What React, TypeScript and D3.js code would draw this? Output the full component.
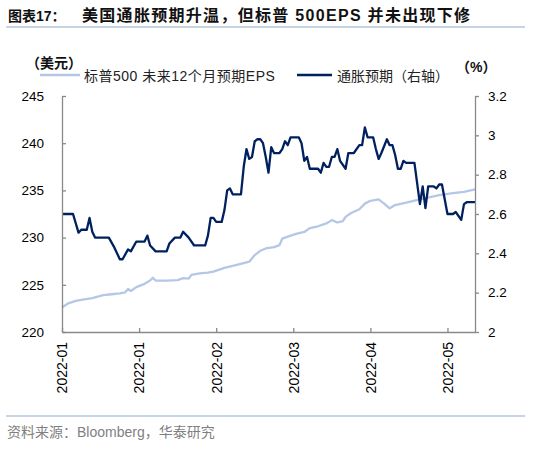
import React, { useEffect, useRef } from "react";
import * as d3 from "d3";

// ---- data ----
const infDates = [
  "2022-01-03","2022-01-07","2022-01-09","2022-01-10","2022-01-12","2022-01-13","2022-01-14","2022-01-15",
  "2022-01-20","2022-01-22","2022-01-24","2022-01-25","2022-01-27","2022-01-28","2022-01-30","2022-02-02",
  "2022-02-03","2022-02-04","2022-02-06","2022-02-10","2022-02-11","2022-02-13","2022-02-15","2022-02-16",
  "2022-02-18","2022-02-20","2022-02-24","2022-02-25","2022-02-26","2022-02-27","2022-02-28","2022-03-02",
  "2022-03-03","2022-03-04","2022-03-05","2022-03-06","2022-03-09","2022-03-10","2022-03-11","2022-03-12",
  "2022-03-13","2022-03-14","2022-03-15","2022-03-16","2022-03-17","2022-03-18","2022-03-19","2022-03-20",
  "2022-03-21","2022-03-23","2022-03-24","2022-03-25","2022-03-26","2022-03-27","2022-03-30","2022-03-31",
  "2022-04-01","2022-04-02","2022-04-03","2022-04-06","2022-04-07","2022-04-08","2022-04-09","2022-04-10",
  "2022-04-11","2022-04-12","2022-04-13","2022-04-14","2022-04-16","2022-04-17","2022-04-19","2022-04-21",
  "2022-04-22","2022-04-23","2022-04-24","2022-04-26","2022-04-27","2022-04-28","2022-04-29","2022-05-01",
  "2022-05-02","2022-05-03","2022-05-04","2022-05-05","2022-05-06","2022-05-07","2022-05-08","2022-05-11",
  "2022-05-13","2022-05-14","2022-05-15","2022-05-16","2022-05-18","2022-05-19","2022-05-20","2022-05-21",
  "2022-05-23","2022-05-25","2022-05-26","2022-05-28","2022-05-29","2022-05-30","2022-06-02",
];
const infValues = [
  2.60,2.60,2.505,2.52,2.52,2.58,2.51,2.48,
  2.48,2.43,2.37,2.37,2.42,2.41,2.46,2.46,
  2.49,2.44,2.41,2.41,2.45,2.48,2.48,2.51,
  2.48,2.44,2.44,2.49,2.58,2.58,2.56,2.56,
  2.62,2.72,2.73,2.70,2.70,2.84,2.93,2.88,
  2.89,2.97,2.98,2.98,2.96,2.89,2.81,2.94,
  2.91,2.91,2.93,2.97,2.95,2.99,2.99,2.96,
  2.87,2.89,2.83,2.83,2.81,2.86,2.84,2.84,
  2.89,2.89,2.93,2.87,2.83,2.91,2.91,2.95,
  2.95,3.04,2.99,2.99,2.93,2.88,2.91,2.98,
  2.95,2.95,2.90,2.83,2.83,2.87,2.86,2.86,
  2.65,2.74,2.63,2.74,2.74,2.73,2.75,2.75,
  2.60,2.60,2.61,2.57,2.65,2.66,2.66,
];

const epsDates = [
  "2022-01-03","2022-01-05","2022-01-08","2022-01-10","2022-01-14","2022-01-18","2022-01-21","2022-01-24",
  "2022-01-26","2022-01-27","2022-01-28","2022-01-30","2022-02-02","2022-02-04","2022-02-05","2022-02-06",
  "2022-02-10","2022-02-14","2022-02-16","2022-02-18","2022-02-19","2022-02-22","2022-02-25","2022-02-27",
  "2022-03-03","2022-03-06","2022-03-10","2022-03-12","2022-03-14","2022-03-16","2022-03-18","2022-03-21",
  "2022-03-23","2022-03-24","2022-03-26","2022-03-29","2022-04-01","2022-04-03","2022-04-06","2022-04-09",
  "2022-04-11","2022-04-13","2022-04-15","2022-04-16","2022-04-18","2022-04-21","2022-04-23","2022-04-25",
  "2022-04-28","2022-04-30","2022-05-02","2022-05-04","2022-05-08","2022-05-13","2022-05-20","2022-05-25",
  "2022-05-29","2022-06-02",
];
const epsValues = [
  222.6,223.0,223.3,223.4,223.6,223.9,224.0,224.1,
  224.2,224.55,224.35,224.75,225.1,225.45,225.75,225.45,
  225.45,225.5,225.7,225.65,226.05,226.2,226.3,226.4,
  226.8,227.0,227.3,227.45,228.15,228.6,228.85,229.0,
  229.2,229.9,230.1,230.4,230.6,231.0,231.2,231.5,
  231.85,231.6,231.75,232.2,232.6,233.0,233.6,233.9,
  234.05,233.6,233.1,233.45,233.7,234.05,234.5,234.7,
  234.85,235.1,
];

const xDomain = ["2022-01-03", "2022-06-02"];
const xTickDates = ["2022-01-03","2022-01-31","2022-02-28","2022-03-28","2022-04-25","2022-05-23"];
const leftTicks = [220, 225, 230, 235, 240, 245];
const rightTicks = [2, 2.2, 2.4, 2.6, 2.8, 3, 3.2];

const titlePrefix = "图表17：";
const titleMain = "美国通胀预期升温，但标普 500EPS 并未出现下修";
const leftUnit = "（美元）";
const rightUnit = "（%）";
const seriesNames = ["标普500 未来12个月预期EPS", "通胀预期（右轴）"];
const sourceText = "资料来源：Bloomberg，华泰研究";

const parse = d3.timeParse("%Y-%m-%d");
const FONT = "'Liberation Sans', Arial, 'Noto Sans CJK SC', sans-serif";
const DARK = "#002060";
const LIGHT = "#b4c7e7";
const AXIS = "#898989";

export default function App() {
  const axRef = useRef<SVGGElement | null>(null);

  const L = 62, R = 475, T = 96, B = 332;
  const x = d3.scaleTime().domain(xDomain.map((d) => parse(d) as Date)).range([L, R]);
  const yL = d3.scaleLinear().domain([220, 245]).range([B, T]);
  const yR = d3.scaleLinear().domain([2, 3.2]).range([B, T]);

  const infData = infDates.map((d, i) => ({ d: parse(d) as Date, v: infValues[i] }));
  const epsData = epsDates.map((d, i) => ({ d: parse(d) as Date, v: epsValues[i] }));

  const infLine = d3.line<{ d: Date; v: number }>().x((p) => x(p.d)).y((p) => yR(p.v));
  const epsLine = d3.line<{ d: Date; v: number }>().x((p) => x(p.d)).y((p) => yL(p.v));

  useEffect(() => {
    const g = d3.select(axRef.current);
    g.selectAll("*").remove();

    const styleAxis = (sel: any) => {
      sel.selectAll(".domain").attr("stroke", AXIS).attr("stroke-width", 1.3);
      sel.selectAll(".tick line").attr("stroke", AXIS).attr("stroke-width", 1.3);
      sel.selectAll(".tick text").attr("fill", "#000").style("font-family", FONT);
      sel.attr("font-size", null);
    };

    const left = g.append("g").attr("transform", `translate(${L},0)`)
      .call(d3.axisLeft(yL).tickValues(leftTicks).tickSizeInner(-4).tickSizeOuter(0).tickPadding(18).tickFormat(d3.format("d")));
    styleAxis(left);
    left.selectAll(".tick text").style("font-size", "13.5px");

    const right = g.append("g").attr("transform", `translate(${R},0)`)
      .call(d3.axisRight(yR).tickValues(rightTicks).tickSizeInner(4).tickSizeOuter(0).tickPadding(9)
        .tickFormat((d: any) => String(+(+d).toFixed(1))));
    styleAxis(right);
    right.selectAll(".tick text").style("font-size", "13.5px");

    const bottom = g.append("g").attr("transform", `translate(0,${B})`)
      .call(d3.axisBottom(x).tickValues(xTickDates.map((d) => parse(d) as Date)).tickSizeInner(-4).tickSizeOuter(0)
        .tickFormat(d3.timeFormat("%Y-%m") as any));
    styleAxis(bottom);
    bottom.selectAll(".tick text")
      .style("font-size", "14px")
      .attr("transform", "rotate(-90)")
      .attr("text-anchor", "end")
      .attr("x", -10)
      .attr("y", 0)
      .attr("dy", "0.35em");
  }, []);

  return (
    <svg width={534} height={450} style={{ position: "absolute", left: 0, top: 0, background: "#fff" }}>
      <rect x={0} y={0} width={534} height={450} fill="#fff" />
      {/* title */}
      <text x={8} y={21} fontFamily={FONT} fontSize={14} fontWeight="bold" fill="#111">{titlePrefix}</text>
      <text x={82} y={21} fontFamily={FONT} fontSize={16} fontWeight="bold" fill="#111" letterSpacing={1.3}>{titleMain}</text>
      <line x1={6} x2={525} y1={27} y2={27} stroke="#8ea9c8" strokeWidth={1.2} />

      {/* units */}
      <text x={26} y={68} fontFamily={FONT} fontSize={14} fontWeight="bold" fill="#111">{leftUnit}</text>
      <text x={456} y={72} fontFamily={FONT} fontSize={14} fontWeight="bold" fill="#111">{rightUnit}</text>

      {/* legend */}
      <line x1={40} x2={80} y1={75} y2={75} stroke={LIGHT} strokeWidth={2.4} />
      <text x={84} y={80.5} fontFamily={FONT} fontSize={14} fill="#222" letterSpacing={0.5}>{seriesNames[0]}</text>
      <line x1={297} x2={332} y1={75} y2={75} stroke={DARK} strokeWidth={2.4} />
      <text x={337} y={80.5} fontFamily={FONT} fontSize={14} fill="#222">{seriesNames[1]}</text>

      {/* series */}
      <path d={epsLine(epsData) || ""} fill="none" stroke={LIGHT} strokeWidth={2.3} strokeLinejoin="round" />
      <path d={infLine(infData) || ""} fill="none" stroke={DARK} strokeWidth={2.3} strokeLinejoin="round" />

      <g ref={axRef} />

      {/* source */}
      <line x1={6} x2={525} y1={416} y2={416} stroke="#8ea9c8" strokeWidth={1.2} />
      <text x={7} y={437} fontFamily={FONT} fontSize={14} fill="#7f7f7f">{sourceText}</text>
    </svg>
  );
}
